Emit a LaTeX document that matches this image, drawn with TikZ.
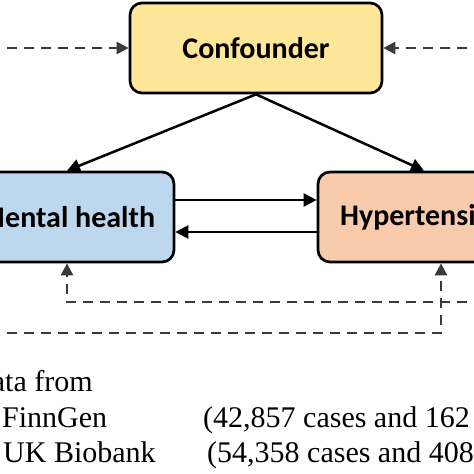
\documentclass[tikz,border=0pt]{standalone}
\usepackage{fontspec}
\setmainfont{Liberation Serif}
\newfontfamily\carlitofont{Carlito}
\usetikzlibrary{arrows.meta}
\definecolor{cfyellow}{HTML}{FFE699}
\definecolor{mhblue}{HTML}{BDD7EE}
\definecolor{htorange}{HTML}{F8CBAD}
\definecolor{dashgray}{HTML}{3A3A3A}
\tikzset{
  box/.style={draw=black, line width=2.7pt, rounded corners=12pt, minimum height=90pt,
    inner sep=0pt, font=\carlitofont\bfseries\fontsize{30}{34}\selectfont},
  solidarrow/.style={draw=black, line width=2.5pt, -{Triangle[length=13pt,width=13pt]}},
  dasharrow/.style={draw=dashgray, line width=2.5pt, dash pattern=on 10pt off 7pt,
    -{Triangle[length=12pt,width=12pt]}},
  legend/.style={anchor=base west, inner sep=0pt, font=\fontsize{30}{34}\selectfont}
}
\begin{document}
\begin{tikzpicture}[x=1pt,y=-1pt]
\useasboundingbox (0,0) rectangle (474,474);
\clip (0,0) rectangle (474,474);
\fill[white] (0,0) rectangle (474,474);
\node[box, fill=cfyellow, minimum width=252pt] (conf) at (256,48) {Confounder};
\node[box, fill=mhblue, minimum width=214pt] (mh) at (67,217) {Mental health};
\node[box, fill=htorange, minimum width=212pt] (ht) at (424,217) {Hypertension};
\coordinate (lin) at (-10,48);
\coordinate (rin) at (484,48);
\coordinate (c1) at (484,302);
\coordinate (c2) at (-10,333);
\draw[dasharrow] (lin) -- (conf.west);
\draw[dasharrow] (rin) -- (conf.east);
\draw[solidarrow] (conf.south) -- (mh.north);
\draw[solidarrow] (conf.south) -- (ht.north);
\draw[solidarrow] ([yshift=17pt]mh.east) -- ([yshift=17pt]ht.west);
\draw[solidarrow] ([yshift=-15pt]ht.west) -- ([yshift=-15pt]mh.east);
\draw[dasharrow] (c1) -| (mh.south);
\draw[dasharrow] (c2) -| ([xshift=17pt]ht.south);
\node[legend] (l0) at (-30,391) {Data from};
\node[legend] (l1) at (2,427) {FinnGen};
\node[legend] (l2) at (3,462) {UK Biobank};
\node[legend] (n1) at (203,427) {(42,857 cases and 162};
\node[legend] (n2) at (207,462) {(54,358 cases and 408};
\end{tikzpicture}
\end{document}
